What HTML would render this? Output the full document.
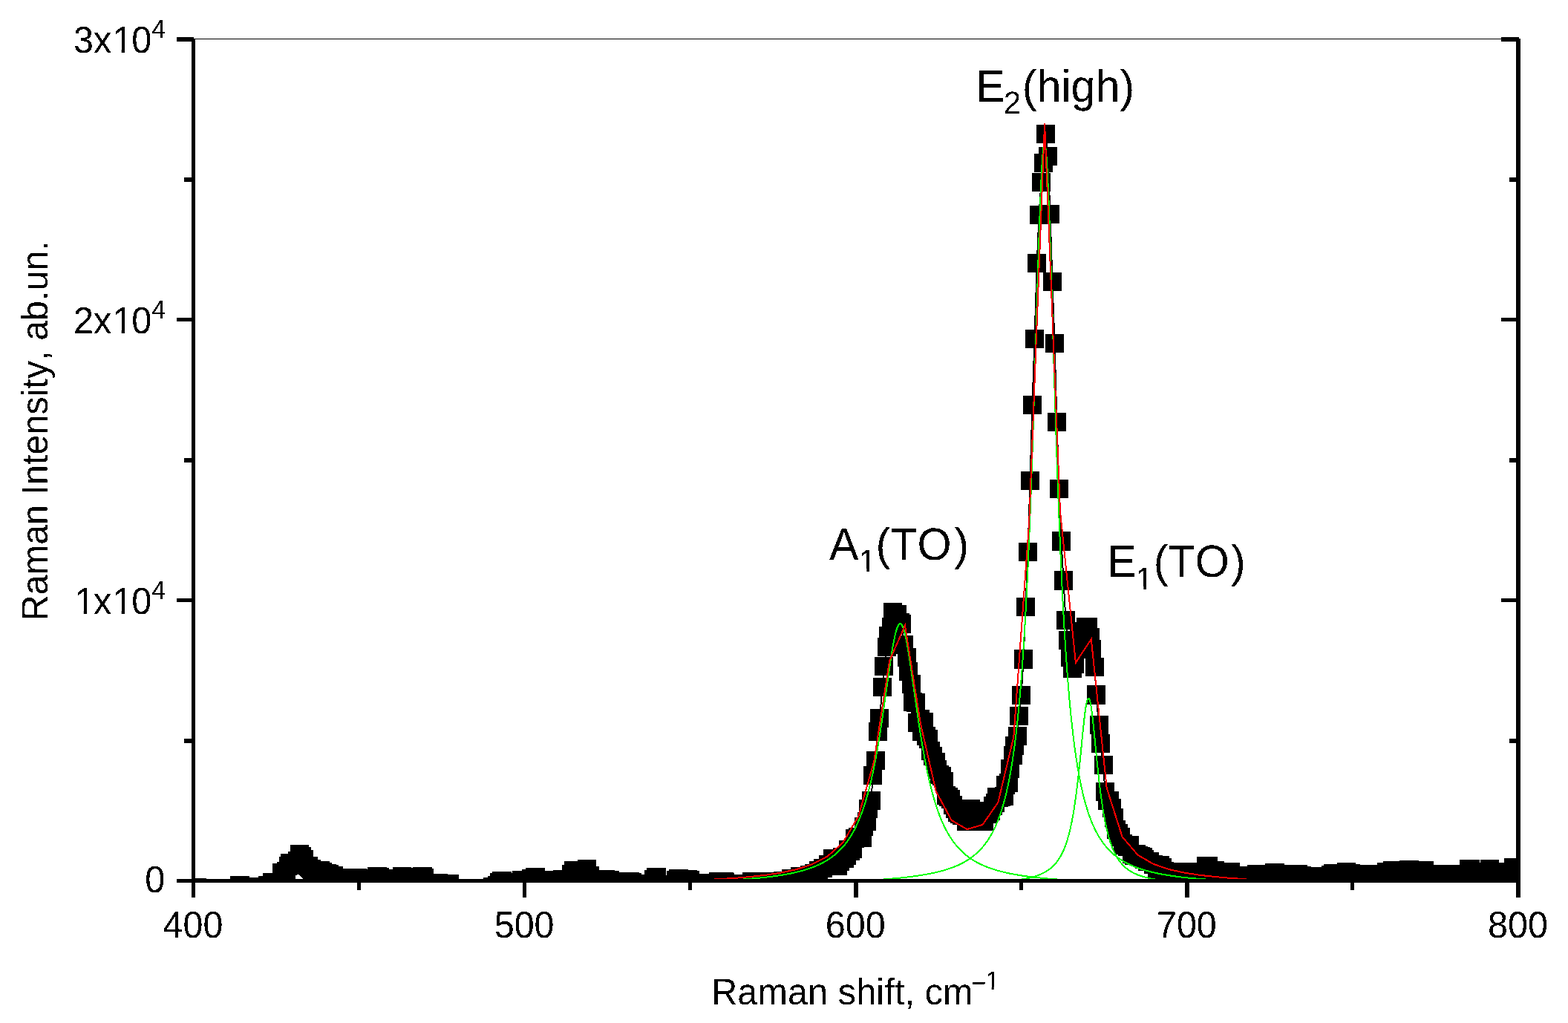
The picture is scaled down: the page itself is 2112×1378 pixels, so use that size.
<!DOCTYPE html>
<html lang="en">
<head>
<meta charset="utf-8">
<title>Raman spectrum</title>
<style>
html,body{margin:0;padding:0;background:#fff;}
body{width:2112px;height:1378px;overflow:hidden;}
svg{display:block;}
text{font-family:"Liberation Sans",Arial,Helvetica,sans-serif;fill:#000;font-kerning:none;text-rendering:geometricPrecision;}
.t,.tt{font-size:48.5px;}
.ls{letter-spacing:0.14px;}
.ts{font-size:34px;}
.p{font-size:59.3px;}
.ps{font-size:41.5px;}
.sq rect{fill:#000;}
.ax rect{fill:#000;}
.dl{fill:none;stroke:#000;stroke-width:2;stroke-linejoin:bevel;}
.fit polyline{fill:none;stroke-width:2;stroke-linejoin:miter;stroke-linecap:butt;}
</style>
</head>
<body>
<svg width="2112" height="1378" viewBox="0 0 2112 1378">
<rect x="0" y="0" width="2112" height="1378" fill="#fff"/>
<defs><clipPath id="plot"><rect x="261" y="52" width="1784" height="1137"/></clipPath>
<filter id="bin" filterUnits="userSpaceOnUse" x="0" y="0" width="2112" height="1378" color-interpolation-filters="sRGB"><feComponentTransfer><feFuncA type="discrete" tableValues="0 1"/></feComponentTransfer></filter></defs>
<g class="sq" shape-rendering="crispEdges" clip-path="url(#plot)">
<rect x="244" y="1183" width="25" height="25"/>
<rect x="247" y="1183" width="25" height="25"/>
<rect x="250" y="1183" width="25" height="25"/>
<rect x="253" y="1183" width="25" height="25"/>
<rect x="256" y="1186" width="25" height="25"/>
<rect x="259" y="1186" width="25" height="25"/>
<rect x="262" y="1186" width="25" height="25"/>
<rect x="265" y="1186" width="25" height="25"/>
<rect x="268" y="1186" width="25" height="25"/>
<rect x="271" y="1186" width="25" height="25"/>
<rect x="274" y="1186" width="25" height="25"/>
<rect x="277" y="1186" width="25" height="25"/>
<rect x="280" y="1186" width="25" height="25"/>
<rect x="283" y="1186" width="25" height="25"/>
<rect x="286" y="1186" width="25" height="25"/>
<rect x="289" y="1186" width="25" height="25"/>
<rect x="292" y="1186" width="25" height="25"/>
<rect x="295" y="1186" width="25" height="25"/>
<rect x="298" y="1186" width="25" height="25"/>
<rect x="301" y="1186" width="25" height="25"/>
<rect x="304" y="1186" width="25" height="25"/>
<rect x="307" y="1186" width="25" height="25"/>
<rect x="310" y="1180" width="25" height="25"/>
<rect x="313" y="1182" width="25" height="25"/>
<rect x="316" y="1182" width="25" height="25"/>
<rect x="319" y="1182" width="25" height="25"/>
<rect x="322" y="1182" width="25" height="25"/>
<rect x="325" y="1182" width="25" height="25"/>
<rect x="328" y="1182" width="25" height="25"/>
<rect x="331" y="1182" width="25" height="25"/>
<rect x="334" y="1182" width="25" height="25"/>
<rect x="337" y="1182" width="25" height="25"/>
<rect x="340" y="1182" width="25" height="25"/>
<rect x="343" y="1182" width="25" height="25"/>
<rect x="346" y="1182" width="25" height="25"/>
<rect x="349" y="1180" width="25" height="25"/>
<rect x="352" y="1180" width="25" height="25"/>
<rect x="355" y="1176" width="25" height="25"/>
<rect x="358" y="1176" width="25" height="25"/>
<rect x="361" y="1176" width="25" height="25"/>
<rect x="364" y="1176" width="25" height="25"/>
<rect x="367" y="1163" width="25" height="25"/>
<rect x="370" y="1163" width="25" height="25"/>
<rect x="373" y="1161" width="25" height="26"/>
<rect x="376" y="1154" width="25" height="33"/>
<rect x="379" y="1150" width="25" height="37"/>
<rect x="382" y="1150" width="25" height="37"/>
<rect x="385" y="1150" width="25" height="37"/>
<rect x="388" y="1147" width="25" height="40"/>
<rect x="391" y="1138" width="25" height="49"/>
<rect x="394" y="1141" width="25" height="46"/>
<rect x="397" y="1145" width="25" height="42"/>
<rect x="400" y="1154" width="25" height="33"/>
<rect x="403" y="1154" width="25" height="33"/>
<rect x="406" y="1158" width="25" height="29"/>
<rect x="409" y="1160" width="25" height="27"/>
<rect x="412" y="1160" width="25" height="27"/>
<rect x="415" y="1160" width="25" height="27"/>
<rect x="418" y="1160" width="25" height="27"/>
<rect x="421" y="1162" width="25" height="25"/>
<rect x="424" y="1164" width="25" height="25"/>
<rect x="427" y="1164" width="25" height="25"/>
<rect x="430" y="1165" width="25" height="25"/>
<rect x="433" y="1167" width="25" height="25"/>
<rect x="436" y="1167" width="25" height="25"/>
<rect x="439" y="1170" width="25" height="25"/>
<rect x="442" y="1170" width="25" height="25"/>
<rect x="445" y="1170" width="25" height="25"/>
<rect x="448" y="1170" width="25" height="25"/>
<rect x="451" y="1170" width="25" height="25"/>
<rect x="454" y="1170" width="25" height="25"/>
<rect x="457" y="1170" width="25" height="25"/>
<rect x="460" y="1170" width="25" height="25"/>
<rect x="463" y="1170" width="25" height="25"/>
<rect x="466" y="1170" width="25" height="25"/>
<rect x="469" y="1170" width="25" height="25"/>
<rect x="472" y="1171" width="25" height="25"/>
<rect x="475" y="1171" width="25" height="25"/>
<rect x="478" y="1171" width="25" height="25"/>
<rect x="481" y="1171" width="25" height="25"/>
<rect x="484" y="1171" width="25" height="25"/>
<rect x="487" y="1171" width="25" height="25"/>
<rect x="490" y="1171" width="25" height="25"/>
<rect x="493" y="1171" width="25" height="25"/>
<rect x="496" y="1168" width="25" height="25"/>
<rect x="499" y="1169" width="25" height="25"/>
<rect x="502" y="1171" width="25" height="25"/>
<rect x="505" y="1171" width="25" height="25"/>
<rect x="508" y="1171" width="25" height="25"/>
<rect x="511" y="1171" width="25" height="25"/>
<rect x="514" y="1171" width="25" height="25"/>
<rect x="517" y="1171" width="25" height="25"/>
<rect x="520" y="1171" width="25" height="25"/>
<rect x="523" y="1171" width="25" height="25"/>
<rect x="526" y="1171" width="25" height="25"/>
<rect x="529" y="1168" width="25" height="25"/>
<rect x="532" y="1169" width="25" height="25"/>
<rect x="535" y="1169" width="25" height="25"/>
<rect x="538" y="1169" width="25" height="25"/>
<rect x="541" y="1169" width="25" height="25"/>
<rect x="544" y="1169" width="25" height="25"/>
<rect x="547" y="1169" width="25" height="25"/>
<rect x="550" y="1169" width="25" height="25"/>
<rect x="553" y="1169" width="25" height="25"/>
<rect x="556" y="1168" width="25" height="25"/>
<rect x="559" y="1170" width="25" height="25"/>
<rect x="562" y="1177" width="25" height="25"/>
<rect x="565" y="1177" width="25" height="25"/>
<rect x="568" y="1177" width="25" height="25"/>
<rect x="571" y="1177" width="25" height="25"/>
<rect x="574" y="1177" width="25" height="25"/>
<rect x="577" y="1177" width="25" height="25"/>
<rect x="580" y="1178" width="25" height="25"/>
<rect x="583" y="1178" width="25" height="25"/>
<rect x="586" y="1178" width="25" height="25"/>
<rect x="589" y="1178" width="25" height="25"/>
<rect x="592" y="1178" width="25" height="25"/>
<rect x="595" y="1186" width="25" height="25"/>
<rect x="598" y="1186" width="25" height="25"/>
<rect x="601" y="1186" width="25" height="25"/>
<rect x="604" y="1186" width="25" height="25"/>
<rect x="607" y="1186" width="25" height="25"/>
<rect x="610" y="1186" width="25" height="25"/>
<rect x="613" y="1186" width="25" height="25"/>
<rect x="616" y="1186" width="25" height="25"/>
<rect x="619" y="1186" width="25" height="25"/>
<rect x="622" y="1186" width="25" height="25"/>
<rect x="625" y="1186" width="25" height="25"/>
<rect x="628" y="1186" width="25" height="25"/>
<rect x="631" y="1186" width="25" height="25"/>
<rect x="634" y="1186" width="25" height="25"/>
<rect x="637" y="1186" width="25" height="25"/>
<rect x="640" y="1186" width="25" height="25"/>
<rect x="643" y="1186" width="25" height="25"/>
<rect x="646" y="1186" width="25" height="25"/>
<rect x="649" y="1186" width="25" height="25"/>
<rect x="652" y="1182" width="25" height="25"/>
<rect x="655" y="1182" width="25" height="25"/>
<rect x="658" y="1180" width="25" height="25"/>
<rect x="661" y="1176" width="25" height="25"/>
<rect x="664" y="1174" width="25" height="25"/>
<rect x="667" y="1176" width="25" height="25"/>
<rect x="670" y="1176" width="25" height="25"/>
<rect x="673" y="1176" width="25" height="25"/>
<rect x="676" y="1176" width="25" height="25"/>
<rect x="679" y="1176" width="25" height="25"/>
<rect x="682" y="1176" width="25" height="25"/>
<rect x="685" y="1176" width="25" height="25"/>
<rect x="688" y="1176" width="25" height="25"/>
<rect x="691" y="1173" width="25" height="25"/>
<rect x="694" y="1173" width="25" height="25"/>
<rect x="697" y="1173" width="25" height="25"/>
<rect x="700" y="1173" width="25" height="25"/>
<rect x="703" y="1171" width="25" height="25"/>
<rect x="706" y="1171" width="25" height="25"/>
<rect x="709" y="1169" width="25" height="25"/>
<rect x="712" y="1173" width="25" height="25"/>
<rect x="715" y="1173" width="25" height="25"/>
<rect x="718" y="1173" width="25" height="25"/>
<rect x="721" y="1173" width="25" height="25"/>
<rect x="724" y="1173" width="25" height="25"/>
<rect x="727" y="1173" width="25" height="25"/>
<rect x="730" y="1173" width="25" height="25"/>
<rect x="733" y="1173" width="25" height="25"/>
<rect x="736" y="1173" width="25" height="25"/>
<rect x="739" y="1173" width="25" height="25"/>
<rect x="742" y="1173" width="25" height="25"/>
<rect x="745" y="1172" width="25" height="25"/>
<rect x="748" y="1172" width="25" height="25"/>
<rect x="751" y="1172" width="25" height="25"/>
<rect x="754" y="1172" width="25" height="25"/>
<rect x="757" y="1165" width="25" height="25"/>
<rect x="760" y="1160" width="25" height="27"/>
<rect x="763" y="1160" width="25" height="27"/>
<rect x="766" y="1160" width="25" height="27"/>
<rect x="769" y="1160" width="25" height="27"/>
<rect x="772" y="1160" width="25" height="27"/>
<rect x="775" y="1160" width="25" height="27"/>
<rect x="778" y="1158" width="25" height="29"/>
<rect x="781" y="1167" width="25" height="25"/>
<rect x="784" y="1172" width="25" height="25"/>
<rect x="787" y="1172" width="25" height="25"/>
<rect x="790" y="1172" width="25" height="25"/>
<rect x="793" y="1172" width="25" height="25"/>
<rect x="796" y="1172" width="25" height="25"/>
<rect x="799" y="1172" width="25" height="25"/>
<rect x="802" y="1172" width="25" height="25"/>
<rect x="805" y="1173" width="25" height="25"/>
<rect x="808" y="1173" width="25" height="25"/>
<rect x="811" y="1175" width="25" height="25"/>
<rect x="814" y="1175" width="25" height="25"/>
<rect x="817" y="1175" width="25" height="25"/>
<rect x="820" y="1175" width="25" height="25"/>
<rect x="823" y="1175" width="25" height="25"/>
<rect x="826" y="1175" width="25" height="25"/>
<rect x="829" y="1175" width="25" height="25"/>
<rect x="832" y="1175" width="25" height="25"/>
<rect x="835" y="1175" width="25" height="25"/>
<rect x="838" y="1176" width="25" height="25"/>
<rect x="841" y="1178" width="25" height="25"/>
<rect x="844" y="1178" width="25" height="25"/>
<rect x="847" y="1178" width="25" height="25"/>
<rect x="850" y="1178" width="25" height="25"/>
<rect x="853" y="1178" width="25" height="25"/>
<rect x="856" y="1178" width="25" height="25"/>
<rect x="859" y="1178" width="25" height="25"/>
<rect x="862" y="1178" width="25" height="25"/>
<rect x="865" y="1178" width="25" height="25"/>
<rect x="868" y="1172" width="25" height="25"/>
<rect x="871" y="1169" width="25" height="25"/>
<rect x="874" y="1179" width="25" height="25"/>
<rect x="877" y="1179" width="25" height="25"/>
<rect x="880" y="1179" width="25" height="25"/>
<rect x="883" y="1179" width="25" height="25"/>
<rect x="886" y="1179" width="25" height="25"/>
<rect x="889" y="1179" width="25" height="25"/>
<rect x="892" y="1179" width="25" height="25"/>
<rect x="895" y="1179" width="25" height="25"/>
<rect x="898" y="1173" width="25" height="25"/>
<rect x="901" y="1171" width="25" height="25"/>
<rect x="904" y="1172" width="25" height="25"/>
<rect x="907" y="1172" width="25" height="25"/>
<rect x="910" y="1172" width="25" height="25"/>
<rect x="913" y="1172" width="25" height="25"/>
<rect x="916" y="1173" width="25" height="25"/>
<rect x="919" y="1177" width="25" height="25"/>
<rect x="922" y="1177" width="25" height="25"/>
<rect x="925" y="1177" width="25" height="25"/>
<rect x="928" y="1177" width="25" height="25"/>
<rect x="931" y="1177" width="25" height="25"/>
<rect x="934" y="1177" width="25" height="25"/>
<rect x="937" y="1177" width="25" height="25"/>
<rect x="940" y="1177" width="25" height="25"/>
<rect x="943" y="1177" width="25" height="25"/>
<rect x="946" y="1177" width="25" height="25"/>
<rect x="949" y="1177" width="25" height="25"/>
<rect x="952" y="1177" width="25" height="25"/>
<rect x="955" y="1175" width="25" height="25"/>
<rect x="958" y="1175" width="25" height="25"/>
<rect x="961" y="1175" width="25" height="25"/>
<rect x="964" y="1176" width="25" height="25"/>
<rect x="967" y="1178" width="25" height="25"/>
<rect x="970" y="1178" width="25" height="25"/>
<rect x="973" y="1178" width="25" height="25"/>
<rect x="976" y="1178" width="25" height="25"/>
<rect x="979" y="1178" width="25" height="25"/>
<rect x="982" y="1178" width="25" height="25"/>
<rect x="985" y="1178" width="25" height="25"/>
<rect x="988" y="1178" width="25" height="25"/>
<rect x="991" y="1178" width="25" height="25"/>
<rect x="994" y="1178" width="25" height="25"/>
<rect x="997" y="1178" width="25" height="25"/>
<rect x="1000" y="1175" width="25" height="25"/>
<rect x="1003" y="1175" width="25" height="25"/>
<rect x="1006" y="1175" width="25" height="25"/>
<rect x="1009" y="1175" width="25" height="25"/>
<rect x="1012" y="1175" width="25" height="25"/>
<rect x="1015" y="1175" width="25" height="25"/>
<rect x="1018" y="1175" width="25" height="25"/>
<rect x="1021" y="1175" width="25" height="25"/>
<rect x="1024" y="1175" width="25" height="25"/>
<rect x="1027" y="1175" width="25" height="25"/>
<rect x="1030" y="1175" width="25" height="25"/>
<rect x="1033" y="1175" width="25" height="25"/>
<rect x="1036" y="1175" width="25" height="25"/>
<rect x="1039" y="1175" width="25" height="25"/>
<rect x="1042" y="1174" width="25" height="25"/>
<rect x="1045" y="1174" width="25" height="25"/>
<rect x="1048" y="1174" width="25" height="25"/>
<rect x="1051" y="1174" width="25" height="25"/>
<rect x="311" y="1180" width="25" height="25"/>
<rect x="348" y="1180" width="25" height="25"/>
<rect x="354" y="1176" width="25" height="25"/>
<rect x="378" y="1150" width="25" height="37"/>
<rect x="407" y="1158" width="25" height="29"/>
<rect x="419" y="1160" width="25" height="27"/>
<rect x="422" y="1162" width="25" height="25"/>
<rect x="428" y="1164" width="25" height="25"/>
<rect x="431" y="1165" width="25" height="25"/>
<rect x="437" y="1167" width="25" height="25"/>
<rect x="468" y="1170" width="25" height="25"/>
<rect x="495" y="1168" width="25" height="25"/>
<rect x="498" y="1169" width="25" height="25"/>
<rect x="557" y="1168" width="25" height="25"/>
<rect x="578" y="1177" width="25" height="25"/>
<rect x="593" y="1178" width="25" height="25"/>
<rect x="651" y="1182" width="25" height="25"/>
<rect x="657" y="1180" width="25" height="25"/>
<rect x="660" y="1176" width="25" height="25"/>
<rect x="663" y="1174" width="25" height="25"/>
<rect x="690" y="1173" width="25" height="25"/>
<rect x="708" y="1169" width="25" height="25"/>
<rect x="782" y="1167" width="25" height="25"/>
<rect x="803" y="1172" width="25" height="25"/>
<rect x="809" y="1173" width="25" height="25"/>
<rect x="836" y="1175" width="25" height="25"/>
<rect x="839" y="1176" width="25" height="25"/>
<rect x="869" y="1172" width="25" height="25"/>
<rect x="872" y="1169" width="25" height="25"/>
<rect x="899" y="1173" width="25" height="25"/>
<rect x="902" y="1171" width="25" height="25"/>
<rect x="914" y="1172" width="25" height="25"/>
<rect x="917" y="1173" width="25" height="25"/>
<rect x="956" y="1175" width="25" height="25"/>
<rect x="962" y="1175" width="25" height="25"/>
<rect x="963" y="1175" width="25" height="25"/>
<rect x="1001" y="1175" width="25" height="25"/>
<rect x="1043" y="1174" width="25" height="25"/>
<rect x="1546" y="1153" width="25" height="34"/>
<rect x="1549" y="1153" width="25" height="34"/>
<rect x="1552" y="1156" width="25" height="31"/>
<rect x="1555" y="1161" width="25" height="26"/>
<rect x="1558" y="1162" width="25" height="25"/>
<rect x="1561" y="1162" width="25" height="25"/>
<rect x="1564" y="1162" width="25" height="25"/>
<rect x="1567" y="1162" width="25" height="25"/>
<rect x="1570" y="1162" width="25" height="25"/>
<rect x="1573" y="1162" width="25" height="25"/>
<rect x="1576" y="1162" width="25" height="25"/>
<rect x="1579" y="1162" width="25" height="25"/>
<rect x="1582" y="1162" width="25" height="25"/>
<rect x="1585" y="1162" width="25" height="25"/>
<rect x="1588" y="1162" width="25" height="25"/>
<rect x="1591" y="1162" width="25" height="25"/>
<rect x="1594" y="1162" width="25" height="25"/>
<rect x="1597" y="1162" width="25" height="25"/>
<rect x="1600" y="1162" width="25" height="25"/>
<rect x="1603" y="1162" width="25" height="25"/>
<rect x="1606" y="1162" width="25" height="25"/>
<rect x="1609" y="1162" width="25" height="25"/>
<rect x="1612" y="1154" width="25" height="33"/>
<rect x="1615" y="1154" width="25" height="33"/>
<rect x="1618" y="1160" width="25" height="27"/>
<rect x="1621" y="1160" width="25" height="27"/>
<rect x="1624" y="1160" width="25" height="27"/>
<rect x="1627" y="1162" width="25" height="25"/>
<rect x="1630" y="1162" width="25" height="25"/>
<rect x="1633" y="1162" width="25" height="25"/>
<rect x="1636" y="1162" width="25" height="25"/>
<rect x="1639" y="1162" width="25" height="25"/>
<rect x="1642" y="1162" width="25" height="25"/>
<rect x="1645" y="1162" width="25" height="25"/>
<rect x="1648" y="1167" width="25" height="25"/>
<rect x="1651" y="1167" width="25" height="25"/>
<rect x="1654" y="1167" width="25" height="25"/>
<rect x="1657" y="1167" width="25" height="25"/>
<rect x="1660" y="1167" width="25" height="25"/>
<rect x="1663" y="1167" width="25" height="25"/>
<rect x="1666" y="1167" width="25" height="25"/>
<rect x="1669" y="1167" width="25" height="25"/>
<rect x="1672" y="1167" width="25" height="25"/>
<rect x="1675" y="1167" width="25" height="25"/>
<rect x="1678" y="1167" width="25" height="25"/>
<rect x="1681" y="1165" width="25" height="25"/>
<rect x="1684" y="1165" width="25" height="25"/>
<rect x="1687" y="1165" width="25" height="25"/>
<rect x="1690" y="1165" width="25" height="25"/>
<rect x="1693" y="1165" width="25" height="25"/>
<rect x="1696" y="1165" width="25" height="25"/>
<rect x="1699" y="1165" width="25" height="25"/>
<rect x="1702" y="1165" width="25" height="25"/>
<rect x="1705" y="1163" width="25" height="25"/>
<rect x="1708" y="1165" width="25" height="25"/>
<rect x="1711" y="1165" width="25" height="25"/>
<rect x="1714" y="1165" width="25" height="25"/>
<rect x="1717" y="1165" width="25" height="25"/>
<rect x="1720" y="1165" width="25" height="25"/>
<rect x="1723" y="1165" width="25" height="25"/>
<rect x="1726" y="1165" width="25" height="25"/>
<rect x="1729" y="1165" width="25" height="25"/>
<rect x="1732" y="1165" width="25" height="25"/>
<rect x="1735" y="1165" width="25" height="25"/>
<rect x="1738" y="1167" width="25" height="25"/>
<rect x="1741" y="1167" width="25" height="25"/>
<rect x="1744" y="1168" width="25" height="25"/>
<rect x="1747" y="1168" width="25" height="25"/>
<rect x="1750" y="1168" width="25" height="25"/>
<rect x="1753" y="1168" width="25" height="25"/>
<rect x="1756" y="1168" width="25" height="25"/>
<rect x="1759" y="1168" width="25" height="25"/>
<rect x="1762" y="1168" width="25" height="25"/>
<rect x="1765" y="1168" width="25" height="25"/>
<rect x="1768" y="1168" width="25" height="25"/>
<rect x="1771" y="1168" width="25" height="25"/>
<rect x="1774" y="1168" width="25" height="25"/>
<rect x="1777" y="1168" width="25" height="25"/>
<rect x="1780" y="1166" width="25" height="25"/>
<rect x="1783" y="1164" width="25" height="25"/>
<rect x="1786" y="1164" width="25" height="25"/>
<rect x="1789" y="1164" width="25" height="25"/>
<rect x="1792" y="1164" width="25" height="25"/>
<rect x="1795" y="1164" width="25" height="25"/>
<rect x="1798" y="1164" width="25" height="25"/>
<rect x="1801" y="1162" width="25" height="25"/>
<rect x="1804" y="1164" width="25" height="25"/>
<rect x="1807" y="1164" width="25" height="25"/>
<rect x="1810" y="1165" width="25" height="25"/>
<rect x="1813" y="1165" width="25" height="25"/>
<rect x="1816" y="1165" width="25" height="25"/>
<rect x="1819" y="1165" width="25" height="25"/>
<rect x="1822" y="1165" width="25" height="25"/>
<rect x="1825" y="1165" width="25" height="25"/>
<rect x="1828" y="1165" width="25" height="25"/>
<rect x="1831" y="1165" width="25" height="25"/>
<rect x="1834" y="1165" width="25" height="25"/>
<rect x="1837" y="1165" width="25" height="25"/>
<rect x="1840" y="1165" width="25" height="25"/>
<rect x="1843" y="1165" width="25" height="25"/>
<rect x="1846" y="1165" width="25" height="25"/>
<rect x="1849" y="1165" width="25" height="25"/>
<rect x="1852" y="1165" width="25" height="25"/>
<rect x="1855" y="1162" width="25" height="25"/>
<rect x="1858" y="1162" width="25" height="25"/>
<rect x="1861" y="1162" width="25" height="25"/>
<rect x="1864" y="1160" width="25" height="27"/>
<rect x="1867" y="1160" width="25" height="27"/>
<rect x="1870" y="1160" width="25" height="27"/>
<rect x="1873" y="1160" width="25" height="27"/>
<rect x="1876" y="1160" width="25" height="27"/>
<rect x="1879" y="1160" width="25" height="27"/>
<rect x="1882" y="1160" width="25" height="27"/>
<rect x="1885" y="1159" width="25" height="28"/>
<rect x="1888" y="1160" width="25" height="27"/>
<rect x="1891" y="1160" width="25" height="27"/>
<rect x="1894" y="1160" width="25" height="27"/>
<rect x="1897" y="1160" width="25" height="27"/>
<rect x="1900" y="1160" width="25" height="27"/>
<rect x="1903" y="1160" width="25" height="27"/>
<rect x="1906" y="1160" width="25" height="27"/>
<rect x="1909" y="1165" width="25" height="25"/>
<rect x="1912" y="1165" width="25" height="25"/>
<rect x="1915" y="1165" width="25" height="25"/>
<rect x="1918" y="1165" width="25" height="25"/>
<rect x="1921" y="1165" width="25" height="25"/>
<rect x="1924" y="1165" width="25" height="25"/>
<rect x="1927" y="1165" width="25" height="25"/>
<rect x="1930" y="1165" width="25" height="25"/>
<rect x="1933" y="1165" width="25" height="25"/>
<rect x="1936" y="1165" width="25" height="25"/>
<rect x="1939" y="1165" width="25" height="25"/>
<rect x="1942" y="1165" width="25" height="25"/>
<rect x="1945" y="1165" width="25" height="25"/>
<rect x="1948" y="1165" width="25" height="25"/>
<rect x="1951" y="1165" width="25" height="25"/>
<rect x="1954" y="1165" width="25" height="25"/>
<rect x="1957" y="1165" width="25" height="25"/>
<rect x="1960" y="1165" width="25" height="25"/>
<rect x="1963" y="1165" width="25" height="25"/>
<rect x="1966" y="1158" width="25" height="29"/>
<rect x="1969" y="1158" width="25" height="29"/>
<rect x="1972" y="1162" width="25" height="25"/>
<rect x="1975" y="1162" width="25" height="25"/>
<rect x="1978" y="1162" width="25" height="25"/>
<rect x="1981" y="1162" width="25" height="25"/>
<rect x="1984" y="1162" width="25" height="25"/>
<rect x="1987" y="1162" width="25" height="25"/>
<rect x="1990" y="1162" width="25" height="25"/>
<rect x="1993" y="1158" width="25" height="29"/>
<rect x="1996" y="1162" width="25" height="25"/>
<rect x="1999" y="1162" width="25" height="25"/>
<rect x="2002" y="1162" width="25" height="25"/>
<rect x="2005" y="1162" width="25" height="25"/>
<rect x="2008" y="1162" width="25" height="25"/>
<rect x="2011" y="1162" width="25" height="25"/>
<rect x="2014" y="1162" width="25" height="25"/>
<rect x="2017" y="1162" width="25" height="25"/>
<rect x="2020" y="1162" width="25" height="25"/>
<rect x="2023" y="1162" width="25" height="25"/>
<rect x="2026" y="1156" width="25" height="31"/>
<rect x="2029" y="1156" width="25" height="31"/>
<rect x="2032" y="1156" width="25" height="31"/>
<rect x="2035" y="1156" width="25" height="31"/>
<rect x="2038" y="1156" width="25" height="31"/>
<rect x="2041" y="1156" width="25" height="31"/>
<rect x="2044" y="1156" width="25" height="31"/>
<rect x="2047" y="1156" width="25" height="31"/>
<rect x="1550" y="1153" width="25" height="34"/>
<rect x="1553" y="1156" width="25" height="31"/>
<rect x="1556" y="1161" width="25" height="26"/>
<rect x="1680" y="1165" width="25" height="25"/>
<rect x="1704" y="1163" width="25" height="25"/>
<rect x="1736" y="1165" width="25" height="25"/>
<rect x="1740" y="1167" width="25" height="25"/>
<rect x="1784" y="1164" width="25" height="25"/>
<rect x="1856" y="1162" width="25" height="25"/>
<rect x="1863" y="1160" width="25" height="27"/>
<rect x="1886" y="1159" width="25" height="28"/>
<rect x="1967" y="1158" width="25" height="29"/>
<rect x="1968" y="1158" width="25" height="29"/>
<rect x="1994" y="1158" width="25" height="29"/>
<rect x="1053" y="1171" width="25" height="25"/>
<rect x="1065" y="1168" width="25" height="25"/>
<rect x="1078" y="1166" width="25" height="25"/>
<rect x="1084" y="1164" width="25" height="25"/>
<rect x="1090" y="1160" width="25" height="25"/>
<rect x="1096" y="1157" width="25" height="25"/>
<rect x="1103" y="1152" width="25" height="25"/>
<rect x="1109" y="1144" width="25" height="25"/>
<rect x="1113" y="1150" width="25" height="25"/>
<rect x="1116" y="1154" width="25" height="25"/>
<rect x="1119" y="1148" width="25" height="25"/>
<rect x="1122" y="1142" width="25" height="25"/>
<rect x="1125" y="1144" width="25" height="25"/>
<rect x="1128" y="1140" width="25" height="25"/>
<rect x="1130" y="1132" width="25" height="25"/>
<rect x="1133" y="1134" width="25" height="25"/>
<rect x="1136" y="1131" width="25" height="25"/>
<rect x="1139" y="1117" width="25" height="25"/>
<rect x="1143" y="1115" width="25" height="25"/>
<rect x="1146" y="1116" width="25" height="25"/>
<rect x="1149" y="1116" width="25" height="25"/>
<rect x="1151" y="1101" width="25" height="25"/>
<rect x="1155" y="1094" width="25" height="25"/>
<rect x="1157" y="1077" width="25" height="25"/>
<rect x="1161" y="1066" width="25" height="25"/>
<rect x="1163" y="1032" width="25" height="25"/>
<rect x="1167" y="1012" width="25" height="25"/>
<rect x="1170" y="973" width="25" height="25"/>
<rect x="1172" y="955" width="25" height="25"/>
<rect x="1176" y="913" width="25" height="25"/>
<rect x="1178" y="885" width="25" height="25"/>
<rect x="1182" y="859" width="25" height="25"/>
<rect x="1184" y="844" width="25" height="25"/>
<rect x="1188" y="832" width="25" height="25"/>
<rect x="1190" y="812" width="25" height="25"/>
<rect x="1193" y="818" width="25" height="25"/>
<rect x="1196" y="815" width="25" height="25"/>
<rect x="1199" y="828" width="25" height="25"/>
<rect x="1200" y="826" width="25" height="25"/>
<rect x="1202" y="828" width="25" height="25"/>
<rect x="1205" y="856" width="25" height="25"/>
<rect x="1209" y="873" width="25" height="25"/>
<rect x="1211" y="892" width="25" height="25"/>
<rect x="1215" y="909" width="25" height="25"/>
<rect x="1217" y="933" width="25" height="25"/>
<rect x="1221" y="934" width="25" height="25"/>
<rect x="1223" y="961" width="25" height="25"/>
<rect x="1227" y="956" width="25" height="25"/>
<rect x="1229" y="973" width="25" height="25"/>
<rect x="1232" y="960" width="25" height="25"/>
<rect x="1235" y="979" width="25" height="25"/>
<rect x="1238" y="983" width="25" height="25"/>
<rect x="1241" y="999" width="25" height="25"/>
<rect x="1244" y="1006" width="25" height="25"/>
<rect x="1248" y="1014" width="25" height="25"/>
<rect x="1250" y="1024" width="25" height="25"/>
<rect x="1253" y="1031" width="25" height="25"/>
<rect x="1256" y="1033" width="25" height="25"/>
<rect x="1259" y="1040" width="25" height="25"/>
<rect x="1262" y="1059" width="25" height="25"/>
<rect x="1265" y="1061" width="25" height="25"/>
<rect x="1268" y="1064" width="25" height="25"/>
<rect x="1271" y="1072" width="25" height="25"/>
<rect x="1274" y="1077" width="25" height="25"/>
<rect x="1277" y="1082" width="25" height="25"/>
<rect x="1280" y="1084" width="25" height="25"/>
<rect x="1283" y="1086" width="25" height="25"/>
<rect x="1286" y="1082" width="25" height="25"/>
<rect x="1289" y="1094" width="25" height="25"/>
<rect x="1292" y="1088" width="25" height="25"/>
<rect x="1295" y="1077" width="25" height="25"/>
<rect x="1298" y="1092" width="25" height="25"/>
<rect x="1300" y="1080" width="25" height="25"/>
<rect x="1304" y="1094" width="25" height="25"/>
<rect x="1307" y="1086" width="25" height="25"/>
<rect x="1310" y="1082" width="25" height="25"/>
<rect x="1313" y="1094" width="25" height="25"/>
<rect x="1316" y="1084" width="25" height="25"/>
<rect x="1319" y="1084" width="25" height="25"/>
<rect x="1322" y="1080" width="25" height="25"/>
<rect x="1325" y="1073" width="25" height="25"/>
<rect x="1328" y="1069" width="25" height="25"/>
<rect x="1330" y="1061" width="25" height="25"/>
<rect x="1333" y="1062" width="25" height="25"/>
<rect x="1336" y="1061" width="25" height="25"/>
<rect x="1340" y="1060" width="25" height="25"/>
<rect x="1342" y="1045" width="25" height="25"/>
<rect x="1346" y="1042" width="25" height="25"/>
<rect x="1348" y="1023" width="25" height="25"/>
<rect x="1352" y="1005" width="25" height="25"/>
<rect x="1354" y="992" width="25" height="25"/>
<rect x="1358" y="979" width="25" height="25"/>
<rect x="1360" y="952" width="25" height="25"/>
<rect x="1363" y="924" width="25" height="25"/>
<rect x="1366" y="875" width="25" height="26"/>
<rect x="1369" y="805" width="25" height="25"/>
<rect x="1372" y="731" width="25" height="25"/>
<rect x="1375" y="635" width="25" height="25"/>
<rect x="1378" y="533" width="25" height="25"/>
<rect x="1381" y="444" width="25" height="25"/>
<rect x="1384" y="342" width="25" height="25"/>
<rect x="1387" y="277" width="25" height="25"/>
<rect x="1390" y="233" width="25" height="25"/>
<rect x="1393" y="207" width="25" height="25"/>
<rect x="1396" y="168" width="25" height="25"/>
<rect x="1399" y="198" width="25" height="25"/>
<rect x="1402" y="276" width="25" height="25"/>
<rect x="1405" y="367" width="25" height="25"/>
<rect x="1408" y="450" width="25" height="25"/>
<rect x="1411" y="556" width="25" height="25"/>
<rect x="1414" y="646" width="25" height="25"/>
<rect x="1417" y="716" width="25" height="26"/>
<rect x="1420" y="769" width="25" height="26"/>
<rect x="1423" y="823" width="25" height="25"/>
<rect x="1426" y="850" width="25" height="25"/>
<rect x="1429" y="873" width="25" height="25"/>
<rect x="1432" y="888" width="25" height="25"/>
<rect x="1435" y="882" width="25" height="25"/>
<rect x="1438" y="860" width="25" height="25"/>
<rect x="1441" y="848" width="25" height="25"/>
<rect x="1444" y="842" width="25" height="25"/>
<rect x="1447" y="838" width="25" height="25"/>
<rect x="1450" y="832" width="25" height="25"/>
<rect x="1453" y="832" width="25" height="25"/>
<rect x="1456" y="846" width="25" height="25"/>
<rect x="1458" y="862" width="25" height="25"/>
<rect x="1462" y="886" width="25" height="25"/>
<rect x="1464" y="923" width="25" height="26"/>
<rect x="1468" y="964" width="25" height="25"/>
<rect x="1470" y="989" width="25" height="25"/>
<rect x="1474" y="1018" width="25" height="25"/>
<rect x="1476" y="1054" width="25" height="25"/>
<rect x="1479" y="1066" width="25" height="25"/>
<rect x="1482" y="1066" width="25" height="25"/>
<rect x="1485" y="1076" width="25" height="25"/>
<rect x="1488" y="1089" width="25" height="25"/>
<rect x="1491" y="1105" width="25" height="25"/>
<rect x="1494" y="1110" width="25" height="25"/>
<rect x="1497" y="1115" width="25" height="25"/>
<rect x="1500" y="1124" width="25" height="25"/>
<rect x="1503" y="1126" width="25" height="25"/>
<rect x="1506" y="1128" width="25" height="25"/>
<rect x="1509" y="1126" width="25" height="25"/>
<rect x="1512" y="1138" width="25" height="25"/>
<rect x="1515" y="1140" width="25" height="25"/>
<rect x="1518" y="1138" width="25" height="25"/>
<rect x="1521" y="1140" width="25" height="25"/>
<rect x="1524" y="1141" width="25" height="25"/>
<rect x="1527" y="1142" width="25" height="25"/>
<rect x="1529" y="1145" width="25" height="25"/>
<rect x="1533" y="1148" width="25" height="25"/>
<rect x="1536" y="1148" width="25" height="25"/>
<rect x="1541" y="1152" width="25" height="25"/>
</g>
<polygon points="398,1184 398,1179 402,1178 409,1184" fill="#fff" shape-rendering="crispEdges"/>
<rect x="1993" y="1157" width="1" height="5" fill="#fff" shape-rendering="crispEdges"/>
<polyline class="dl" shape-rendering="crispEdges" clip-path="url(#plot)" points="1065.3,1183.6 1077.8,1180.6 1090.5,1178.5 1096.5,1176 1102.5,1173 1108.5,1169.5 1115.5,1164.7 1121.6,1156.6 1125.5,1162 1128.5,1166 1131.5,1160 1134.7,1154.5 1137.5,1156 1140.6,1152.5 1142.5,1144.5 1145.5,1146 1148.4,1143.3 1151.6,1129.6 1155.6,1127.5 1158.5,1128 1161.5,1128.3 1163.9,1113.8 1167.7,1106.2 1169.5,1089.4 1173.6,1078.4 1175.5,1044.5 1179.5,1024.5 1182.5,985.5 1185,967.5 1188.5,925.5 1191,897.5 1194.5,871.5 1196.7,856 1200.7,844.5 1202.5,824.5 1205.5,830 1208.5,827.5 1211.5,840 1212.6,838.6 1214.5,840.6 1217.4,868.5 1221.4,885.4 1223.3,904.5 1227.3,921.8 1229.5,945.5 1233.4,946.2 1235.7,973.9 1239.4,968.3 1241.7,985.3 1244.4,972.1 1247.5,991.5 1250.5,995.3 1253.6,1011.4 1256.7,1018.3 1260.1,1026.3 1262.7,1036.6 1265.9,1043.7 1268.7,1045.3 1271.6,1052.8 1274.5,1071.3 1277.6,1073.7 1281,1076.4 1283.6,1084.4 1286.5,1089.9 1289.6,1094.2 1292.6,1097 1295.5,1098 1298.5,1095 1301.4,1106.3 1304.5,1100 1307.4,1089.6 1310.5,1104 1312.4,1092.2 1316.5,1106.3 1319.5,1099 1322.5,1095 1325.5,1106.3 1328.5,1097 1331.5,1097 1334.5,1092.5 1337.7,1085.6 1340.5,1081.3 1342.8,1073.7 1345.7,1074 1348.7,1073.8 1352.5,1072.1 1354.5,1057.4 1358.5,1054.2 1360.5,1035.1 1364,1017.5 1366.5,1004.3 1370,991.6 1372.5,964.5 1375.6,936.6 1378.5,888 1381.5,817.5 1384.5,743.5 1387.5,647.5 1390.5,545.5 1393.5,457 1396.8,354.5 1399.5,289.5 1402.5,245.5 1405.5,219.5 1408.5,180.5 1411.5,210.5 1414.5,288.5 1417.5,379.5 1420.5,462.5 1423.5,568.5 1426.5,658.5 1429.5,729 1432.5,782 1435.5,835.5 1438.7,863 1441.7,885.3 1444.5,900.3 1447.5,894.2 1450.5,872 1453.5,860 1456.5,854.5 1459.5,850 1462.5,844.5 1465.5,844.5 1468.5,858.6 1470.5,874.7 1474.5,898.5 1476.5,935.8 1480,976.3 1482.6,1001.4 1486,1030.4 1488.5,1066.3 1491.6,1078.3 1494.4,1078.7 1497.6,1088.6 1500.6,1101.5 1503.6,1117.4 1506.6,1123 1509.4,1127.4 1512.4,1137 1515.5,1139 1518.5,1140 1521.4,1138.7 1524.6,1150.4 1527.9,1152.5 1530.3,1150.5 1533.3,1153 1536.3,1153.6 1539.5,1154.5 1541.4,1157.5 1545.7,1160.3 1548.4,1160.5 1553.5,1164.6"/>
<g class="fit" shape-rendering="crispEdges" clip-path="url(#plot)">
<polyline stroke="#00ff00" points="994.5,1185 995.5,1184.9 996.5,1184.8 997.5,1184.8 998.5,1184.7 999.5,1184.6 1000.5,1184.6 1001.5,1184.5 1002.5,1184.4 1003.5,1184.3 1004.5,1184.3 1005.5,1184.2 1006.5,1184.1 1007.5,1184 1008.5,1183.9 1009.5,1183.9 1010.5,1183.8 1011.5,1183.7 1012.5,1183.6 1013.5,1183.5 1014.5,1183.4 1015.5,1183.3 1016.5,1183.3 1017.5,1183.2 1018.5,1183.1 1019.5,1183 1020.5,1182.9 1021.5,1182.8 1022.5,1182.7 1023.5,1182.6 1024.5,1182.5 1025.5,1182.4 1026.5,1182.3 1027.5,1182.2 1028.5,1182.1 1029.5,1182 1030.5,1181.8 1031.5,1181.7 1032.5,1181.6 1033.5,1181.5 1034.5,1181.4 1035.5,1181.3 1036.5,1181.1 1037.5,1181 1038.5,1180.9 1039.5,1180.7 1040.5,1180.6 1041.5,1180.5 1042.5,1180.3 1043.5,1180.2 1044.5,1180.1 1045.5,1179.9 1046.5,1179.8 1047.5,1179.6 1048.5,1179.5 1049.5,1179.3 1050.5,1179.2 1051.5,1179 1052.5,1178.9 1053.5,1178.7 1054.5,1178.5 1055.5,1178.4 1056.5,1178.2 1057.5,1178 1058.5,1177.8 1059.5,1177.6 1060.5,1177.5 1061.5,1177.3 1062.5,1177.1 1063.5,1176.9 1064.5,1176.7 1065.5,1176.5 1066.5,1176.3 1067.5,1176 1068.5,1175.8 1069.5,1175.6 1070.5,1175.4 1071.5,1175.1 1072.5,1174.9 1073.5,1174.7 1074.5,1174.4 1075.5,1174.2 1076.5,1173.9 1077.5,1173.7 1078.5,1173.4 1079.5,1173.1 1080.5,1172.9 1081.5,1172.6 1082.5,1172.3 1083.5,1172 1084.5,1171.7 1085.5,1171.4 1086.5,1171.1 1087.5,1170.7 1088.5,1170.4 1089.5,1170.1 1090.5,1169.7 1091.5,1169.4 1092.5,1169 1093.5,1168.6 1094.5,1168.3 1095.5,1167.9 1096.5,1167.5 1097.5,1167.1 1098.5,1166.7 1099.5,1166.3 1100.5,1165.8 1101.5,1165.4 1102.5,1164.9 1103.5,1164.5 1104.5,1164 1105.5,1163.5 1106.5,1163 1107.5,1162.5 1108.5,1161.9 1109.5,1161.4 1110.5,1160.8 1111.5,1160.3 1112.5,1159.7 1113.5,1159.1 1114.5,1158.5 1115.5,1157.8 1116.5,1157.2 1117.5,1156.5 1118.5,1155.8 1119.5,1155.1 1120.5,1154.4 1121.5,1153.6 1122.5,1152.9 1123.5,1152.1 1124.5,1151.3 1125.5,1150.4 1126.5,1149.6 1127.5,1148.7 1128.5,1147.8 1129.5,1146.8 1130.5,1145.9 1131.5,1144.9 1132.5,1143.8 1133.5,1142.8 1134.5,1141.7 1135.5,1140.5 1136.5,1139.4 1137.5,1138.2 1138.5,1136.9 1139.5,1135.6 1140.5,1134.3 1141.5,1132.9 1142.5,1131.5 1143.5,1130.1 1144.5,1128.5 1145.5,1127 1146.5,1125.4 1147.5,1123.7 1148.5,1122 1149.5,1120.2 1150.5,1118.3 1151.5,1116.4 1152.5,1114.4 1153.5,1112.3 1154.5,1110.2 1155.5,1108 1156.5,1105.7 1157.5,1103.3 1158.5,1100.9 1159.5,1098.3 1160.5,1095.7 1161.5,1092.9 1162.5,1090.1 1163.5,1087.1 1164.5,1084 1165.5,1080.8 1166.5,1077.5 1167.5,1074.1 1168.5,1070.6 1169.5,1066.9 1170.5,1063 1171.5,1059.1 1172.5,1055 1173.5,1050.7 1174.5,1046.3 1175.5,1041.7 1176.5,1036.9 1177.5,1032 1178.5,1027 1179.5,1021.7 1180.5,1016.3 1181.5,1010.7 1182.5,1005 1183.5,999 1184.5,992.9 1185.5,986.7 1186.5,980.3 1187.5,973.7 1188.5,967 1189.5,960.2 1190.5,953.2 1191.5,946.2 1192.5,939.1 1193.5,932 1194.5,924.9 1195.5,917.7 1196.5,910.6 1197.5,903.6 1198.5,896.8 1199.5,890.1 1200.5,883.6 1201,880.5 1201.5,877.4 1202,874.4 1202.5,871.5 1203,868.7 1203.5,866 1204,863.4 1204.5,860.9 1205,858.5 1205.5,856.3 1206,854.2 1206.5,852.2 1207,850.3 1207.5,848.6 1208,847 1208.5,845.6 1209,844.4 1209.5,843.3 1210,842.3 1210.5,841.6 1211,841 1211.5,840.5 1212,840.3 1212.5,840.2 1213,840.3 1213.5,840.5 1214,841 1214.5,841.6 1215,842.3 1215.5,843.3 1216,844.4 1216.5,845.6 1217,847 1217.5,848.6 1218,850.3 1218.5,852.2 1219,854.2 1219.5,856.3 1220,858.5 1220.5,860.9 1221,863.4 1221.5,866 1222,868.7 1222.5,871.5 1223,874.4 1223.5,877.4 1224,880.5 1224.5,883.6 1225,886.8 1226,893.4 1227,900.2 1228,907.1 1229,914.2 1230,921.3 1231,928.4 1232,935.6 1233,942.7 1234,949.7 1235,956.7 1236,963.6 1237,970.4 1238,977 1239,983.5 1240,989.8 1241,996 1242,1002 1243,1007.9 1244,1013.5 1245,1019 1246,1024.4 1247,1029.5 1248,1034.5 1249,1039.3 1250,1044 1251,1048.5 1252,1052.8 1253,1057 1254,1061.1 1255,1065 1256,1068.7 1257,1072.4 1258,1075.8 1259,1079.2 1260,1082.5 1261,1085.6 1262,1088.6 1263,1091.5 1264,1094.3 1265,1097 1266,1099.6 1267,1102.1 1268,1104.5 1269,1106.9 1270,1109.1 1271,1111.3 1272,1113.4 1273,1115.4 1274,1117.4 1275,1119.2 1276,1121.1 1277,1122.8 1278,1124.5 1279,1126.2 1280,1127.8 1281,1129.3 1282,1130.8 1283,1132.2 1284,1133.6 1285,1135 1286,1136.3 1287,1137.5 1288,1138.8 1289,1140 1290,1141.1 1291,1142.2 1292,1143.3 1293,1144.3 1294,1145.4 1295,1146.3 1296,1147.3 1297,1148.2 1298,1149.1 1299,1150 1300,1150.9 1301,1151.7 1302,1152.5 1303,1153.3 1304,1154 1305,1154.8 1306,1155.5 1307,1156.2 1308,1156.8 1309,1157.5 1310,1158.2 1311,1158.8 1312,1159.4 1313,1160 1314,1160.6 1315,1161.1 1316,1161.7 1317,1162.2 1318,1162.7 1319,1163.2 1320,1163.7 1321,1164.2 1322,1164.7 1323,1165.1 1324,1165.6 1325,1166 1326,1166.5 1327,1166.9 1328,1167.3 1329,1167.7 1330,1168.1 1331,1168.5 1332,1168.8 1333,1169.2 1334,1169.6 1335,1169.9 1336,1170.2 1337,1170.6 1338,1170.9 1339,1171.2 1340,1171.5 1341,1171.8 1342,1172.1 1343,1172.4 1344,1172.7 1345,1173 1346,1173.3 1347,1173.5 1348,1173.8 1349,1174.1 1350,1174.3 1351,1174.6 1352,1174.8 1353,1175 1354,1175.3 1355,1175.5 1356,1175.7 1357,1175.9 1358,1176.2 1359,1176.4 1360,1176.6 1361,1176.8 1362,1177 1363,1177.2 1364,1177.4 1365,1177.5 1366,1177.7 1367,1177.9 1368,1178.1 1369,1178.3 1370,1178.4 1371,1178.6 1372,1178.8 1373,1178.9 1374,1179.1 1375,1179.3 1376,1179.4 1377,1179.6 1378,1179.7 1379,1179.9 1380,1180 1381,1180.1 1382,1180.3 1383,1180.4 1384,1180.6 1385,1180.7 1386,1180.8 1387,1180.9 1388,1181.1 1389,1181.2 1390,1181.3 1391,1181.4 1392,1181.6 1393,1181.7 1394,1181.8 1395,1181.9 1396,1182 1397,1182.1 1398,1182.2 1399,1182.3 1400,1182.4 1401,1182.5 1402,1182.6 1403,1182.7 1404,1182.8 1405,1182.9 1406,1183 1407,1183.1 1408,1183.2 1409,1183.3 1410,1183.4 1411,1183.5 1412,1183.6 1413,1183.7 1414,1183.7 1415,1183.8 1416,1183.9 1417,1184 1418,1184.1 1419,1184.1 1420,1184.2 1421,1184.3 1422,1184.4 1423,1184.4 1424,1184.5 1425,1184.6 1426,1184.7 1427,1184.7 1428,1184.8 1429,1184.9 1430,1184.9"/>
<polyline stroke="#00ff00" points="1182.9,1185 1183.9,1184.9 1184.9,1184.8 1185.9,1184.8 1186.9,1184.7 1187.9,1184.6 1188.9,1184.5 1189.9,1184.5 1190.9,1184.4 1191.9,1184.3 1192.9,1184.3 1193.9,1184.2 1194.9,1184.1 1195.9,1184 1196.9,1183.9 1197.9,1183.9 1198.9,1183.8 1199.9,1183.7 1200.9,1183.6 1201.9,1183.5 1202.9,1183.4 1203.9,1183.4 1204.9,1183.3 1205.9,1183.2 1206.9,1183.1 1207.9,1183 1208.9,1182.9 1209.9,1182.8 1210.9,1182.7 1211.9,1182.6 1212.9,1182.5 1213.9,1182.4 1214.9,1182.3 1215.9,1182.2 1216.9,1182.1 1217.9,1182 1218.9,1181.9 1219.9,1181.8 1220.9,1181.6 1221.9,1181.5 1222.9,1181.4 1223.9,1181.3 1224.9,1181.2 1225.9,1181 1226.9,1180.9 1227.9,1180.8 1228.9,1180.7 1229.9,1180.5 1230.9,1180.4 1231.9,1180.3 1232.9,1180.1 1233.9,1180 1234.9,1179.8 1235.9,1179.7 1236.9,1179.6 1237.9,1179.4 1238.9,1179.2 1239.9,1179.1 1240.9,1178.9 1241.9,1178.8 1242.9,1178.6 1243.9,1178.4 1244.9,1178.3 1245.9,1178.1 1246.9,1177.9 1247.9,1177.7 1248.9,1177.6 1249.9,1177.4 1250.9,1177.2 1251.9,1177 1252.9,1176.8 1253.9,1176.6 1254.9,1176.4 1255.9,1176.2 1256.9,1176 1257.9,1175.7 1258.9,1175.5 1259.9,1175.3 1260.9,1175.1 1261.9,1174.8 1262.9,1174.6 1263.9,1174.3 1264.9,1174.1 1265.9,1173.8 1266.9,1173.6 1267.9,1173.3 1268.9,1173 1269.9,1172.8 1270.9,1172.5 1271.9,1172.2 1272.9,1171.9 1273.9,1171.6 1274.9,1171.3 1275.9,1171 1276.9,1170.6 1277.9,1170.3 1278.9,1170 1279.9,1169.6 1280.9,1169.3 1281.9,1168.9 1282.9,1168.5 1283.9,1168.1 1284.9,1167.8 1285.9,1167.4 1286.9,1166.9 1287.9,1166.5 1288.9,1166.1 1289.9,1165.7 1290.9,1165.2 1291.9,1164.7 1292.9,1164.3 1293.9,1163.8 1294.9,1163.3 1295.9,1162.8 1296.9,1162.3 1297.9,1161.7 1298.9,1161.2 1299.9,1160.6 1300.9,1160 1301.9,1159.4 1302.9,1158.8 1303.9,1158.2 1304.9,1157.5 1305.9,1156.8 1306.9,1156.2 1307.9,1155.4 1308.9,1154.7 1309.9,1154 1310.9,1153.2 1311.9,1152.4 1312.9,1151.6 1313.9,1150.7 1314.9,1149.9 1315.9,1149 1316.9,1148 1317.9,1147.1 1318.9,1146.1 1319.9,1145.1 1320.9,1144 1321.9,1142.9 1322.9,1141.8 1323.9,1140.6 1324.9,1139.4 1325.9,1138.2 1326.9,1136.9 1327.9,1135.6 1328.9,1134.2 1329.9,1132.7 1330.9,1131.3 1331.9,1129.7 1332.9,1128.1 1333.9,1126.5 1334.9,1124.8 1335.9,1123 1336.9,1121.1 1337.9,1119.2 1338.9,1117.2 1339.9,1115.1 1340.9,1112.9 1341.9,1110.7 1342.9,1108.3 1343.9,1105.8 1344.9,1103.3 1345.9,1100.6 1346.9,1097.8 1347.9,1094.9 1348.9,1091.8 1349.9,1088.6 1350.9,1085.3 1351.9,1081.8 1352.9,1078.2 1353.9,1074.3 1354.9,1070.3 1355.9,1066.1 1356.9,1061.6 1357.9,1057 1358.9,1052.1 1359.9,1046.9 1360.9,1041.5 1361.9,1035.8 1362.9,1029.7 1363.9,1023.4 1364.9,1016.7 1365.9,1009.6 1366.9,1002.1 1367.9,994.2 1368.9,985.8 1369.9,976.9 1370.9,967.5 1371.9,957.5 1372.9,946.9 1373.9,935.7 1374.9,923.8 1375.9,911.1 1376.9,897.7 1377.9,883.4 1378.9,868.2 1379.9,852.1 1380.9,835 1381.9,816.8 1382.9,797.5 1383.9,776.9 1384.9,755.2 1385.9,732.2 1386.9,707.9 1387.9,682.3 1388.9,655.3 1389.9,627.1 1390.9,597.6 1391.9,566.9 1392.9,535.2 1393.9,502.7 1394.9,469.6 1395.4,452.9 1395.9,436.1 1396.4,419.4 1396.9,402.8 1397.4,386.3 1397.9,370 1398.4,354 1398.9,338.2 1399.4,322.9 1399.9,308.1 1400.4,293.9 1400.9,280.2 1401.4,267.4 1401.9,255.3 1402.4,244 1402.9,233.8 1403.4,224.5 1403.9,216.3 1404.4,209.3 1404.9,203.5 1405.4,198.9 1405.9,195.6 1406.4,193.7 1406.9,193 1407.4,193.7 1407.9,195.6 1408.4,198.9 1408.9,203.5 1409.4,209.3 1409.9,216.3 1410.4,224.5 1410.9,233.8 1411.4,244 1411.9,255.3 1412.4,267.4 1412.9,280.2 1413.4,293.9 1413.9,308.1 1414.4,322.9 1414.9,338.2 1415.4,354 1415.9,370 1416.4,386.3 1416.9,402.8 1417.4,419.4 1417.9,436.1 1418.4,452.9 1418.9,469.6 1419.4,486.2 1420.4,519.1 1421.4,551.2 1422.4,582.4 1423.4,612.5 1424.4,641.4 1425.4,669 1426.4,695.3 1427.4,720.2 1428.4,743.9 1429.4,766.2 1430.4,787.3 1431.4,807.3 1432.4,826 1433.4,843.7 1434.4,860.3 1435.4,876 1436.4,890.7 1437.4,904.5 1438.4,917.6 1439.4,929.8 1440.4,941.4 1441.4,952.3 1442.4,962.6 1443.4,972.3 1444.4,981.4 1445.4,990 1446.4,998.2 1447.4,1005.9 1448.4,1013.2 1449.4,1020.1 1450.4,1026.6 1451.4,1032.8 1452.4,1038.7 1453.4,1044.2 1454.4,1049.5 1455.4,1054.6 1456.4,1059.3 1457.4,1063.9 1458.4,1068.2 1459.4,1072.3 1460.4,1076.3 1461.4,1080 1462.4,1083.6 1463.4,1087 1464.4,1090.3 1465.4,1093.4 1466.4,1096.4 1467.4,1099.2 1468.4,1102 1469.4,1104.6 1470.4,1107.1 1471.4,1109.5 1472.4,1111.8 1473.4,1114 1474.4,1116.1 1475.4,1118.2 1476.4,1120.2 1477.4,1122 1478.4,1123.9 1479.4,1125.6 1480.4,1127.3 1481.4,1128.9 1482.4,1130.5 1483.4,1132 1484.4,1133.5 1485.4,1134.9 1486.4,1136.2 1487.4,1137.5 1488.4,1138.8 1489.4,1140 1490.4,1141.2 1491.4,1142.4 1492.4,1143.5 1493.4,1144.5 1494.4,1145.6 1495.4,1146.6 1496.4,1147.6 1497.4,1148.5 1498.4,1149.4 1499.4,1150.3 1500.4,1151.2 1501.4,1152 1502.4,1152.8 1503.4,1153.6 1504.4,1154.3 1505.4,1155.1 1506.4,1155.8 1507.4,1156.5 1508.4,1157.2 1509.4,1157.8 1510.4,1158.5 1511.4,1159.1 1512.4,1159.7 1513.4,1160.3 1514.4,1160.9 1515.4,1161.4 1516.4,1162 1517.4,1162.5 1518.4,1163 1519.4,1163.5 1520.4,1164 1521.4,1164.5 1522.4,1165 1523.4,1165.4 1524.4,1165.9 1525.4,1166.3 1526.4,1166.7 1527.4,1167.2 1528.4,1167.6 1529.4,1167.9 1530.4,1168.3 1531.4,1168.7 1532.4,1169.1 1533.4,1169.4 1534.4,1169.8 1535.4,1170.1 1536.4,1170.5 1537.4,1170.8 1538.4,1171.1 1539.4,1171.4 1540.4,1171.7 1541.4,1172 1542.4,1172.3 1543.4,1172.6 1544.4,1172.9 1545.4,1173.2 1546.4,1173.4 1547.4,1173.7 1548.4,1174 1549.4,1174.2 1550.4,1174.5 1551.4,1174.7 1552.4,1174.9 1553.4,1175.2 1554.4,1175.4 1555.4,1175.6 1556.4,1175.8 1557.4,1176.1 1558.4,1176.3 1559.4,1176.5 1560.4,1176.7 1561.4,1176.9 1562.4,1177.1 1563.4,1177.3 1564.4,1177.5 1565.4,1177.6 1566.4,1177.8 1567.4,1178 1568.4,1178.2 1569.4,1178.4 1570.4,1178.5 1571.4,1178.7 1572.4,1178.9 1573.4,1179 1574.4,1179.2 1575.4,1179.3 1576.4,1179.5 1577.4,1179.6 1578.4,1179.8 1579.4,1179.9 1580.4,1180.1 1581.4,1180.2 1582.4,1180.3 1583.4,1180.5 1584.4,1180.6 1585.4,1180.7 1586.4,1180.9 1587.4,1181 1588.4,1181.1 1589.4,1181.2 1590.4,1181.4 1591.4,1181.5 1592.4,1181.6 1593.4,1181.7 1594.4,1181.8 1595.4,1181.9 1596.4,1182 1597.4,1182.1 1598.4,1182.2 1599.4,1182.4 1600.4,1182.5 1601.4,1182.6 1602.4,1182.7 1603.4,1182.8 1604.4,1182.8 1605.4,1182.9 1606.4,1183 1607.4,1183.1 1608.4,1183.2 1609.4,1183.3 1610.4,1183.4 1611.4,1183.5 1612.4,1183.6 1613.4,1183.7 1614.4,1183.7 1615.4,1183.8 1616.4,1183.9 1617.4,1184 1618.4,1184.1 1619.4,1184.1 1620.4,1184.2 1621.4,1184.3 1622.4,1184.4 1623.4,1184.4 1624.4,1184.5 1625.4,1184.6 1626.4,1184.7 1627.4,1184.7 1628.4,1184.8 1629.4,1184.9 1630.4,1184.9 1631.4,1185"/>
<polyline stroke="#00ff00" points="1374.1,1184.9 1375.1,1184.8 1376.1,1184.6 1377.1,1184.4 1378.1,1184.2 1379.1,1184.1 1380.1,1183.9 1381.1,1183.7 1382.1,1183.5 1383.1,1183.3 1384.1,1183 1385.1,1182.8 1386.1,1182.6 1387.1,1182.4 1388.1,1182.1 1389.1,1181.8 1390.1,1181.6 1391.1,1181.3 1392.1,1181 1393.1,1180.7 1394.1,1180.4 1395.1,1180.1 1396.1,1179.7 1397.1,1179.4 1398.1,1179 1399.1,1178.6 1400.1,1178.3 1401.1,1177.8 1402.1,1177.4 1403.1,1177 1404.1,1176.5 1405.1,1176 1406.1,1175.5 1407.1,1174.9 1408.1,1174.4 1409.1,1173.8 1410.1,1173.2 1411.1,1172.5 1412.1,1171.8 1413.1,1171.1 1414.1,1170.4 1415.1,1169.6 1416.1,1168.7 1417.1,1167.9 1418.1,1166.9 1419.1,1165.9 1420.1,1164.9 1421.1,1163.8 1422.1,1162.7 1423.1,1161.4 1424.1,1160.1 1425.1,1158.7 1426.1,1157.3 1427.1,1155.7 1428.1,1154.1 1429.1,1152.3 1430.1,1150.4 1431.1,1148.4 1432.1,1146.3 1433.1,1144 1434.1,1141.5 1435.1,1138.9 1436.1,1136.1 1437.1,1133.1 1438.1,1129.8 1439.1,1126.3 1440.1,1122.6 1441.1,1118.6 1442.1,1114.2 1443.1,1109.6 1444.1,1104.5 1445.1,1099.1 1446.1,1093.3 1447.1,1087.1 1448.1,1080.4 1449.1,1073.3 1450.1,1065.7 1451.1,1057.6 1452.1,1049 1453.1,1039.9 1454.1,1030.5 1454.6,1025.6 1455.1,1020.7 1455.6,1015.7 1456.1,1010.6 1456.6,1005.6 1457.1,1000.5 1457.6,995.4 1458.1,990.4 1458.6,985.4 1459.1,980.5 1459.6,975.8 1460.1,971.2 1460.6,966.8 1461.1,962.7 1461.6,958.8 1462.1,955.1 1462.6,951.9 1463.1,949 1463.6,946.4 1464.1,944.3 1464.6,942.7 1465.1,941.5 1465.6,940.7 1466.1,940.5 1466.6,940.7 1467.1,941.5 1467.6,942.7 1468.1,944.3 1468.6,946.4 1469.1,949 1469.6,951.9 1470.1,955.1 1470.6,958.8 1471.1,962.7 1471.6,966.8 1472.1,971.2 1472.6,975.8 1473.1,980.5 1473.6,985.4 1474.1,990.4 1474.6,995.4 1475.1,1000.5 1475.6,1005.6 1476.1,1010.6 1476.6,1015.7 1477.1,1020.7 1477.6,1025.6 1478.1,1030.5 1478.6,1035.2 1479.6,1044.5 1480.6,1053.3 1481.6,1061.7 1482.6,1069.5 1483.6,1076.9 1484.6,1083.8 1485.6,1090.3 1486.6,1096.3 1487.6,1101.9 1488.6,1107.1 1489.6,1111.9 1490.6,1116.4 1491.6,1120.6 1492.6,1124.5 1493.6,1128.1 1494.6,1131.5 1495.6,1134.6 1496.6,1137.5 1497.6,1140.2 1498.6,1142.8 1499.6,1145.1 1500.6,1147.4 1501.6,1149.4 1502.6,1151.4 1503.6,1153.2 1504.6,1154.9 1505.6,1156.5 1506.6,1158 1507.6,1159.4 1508.6,1160.8 1509.6,1162.1 1510.6,1163.2 1511.6,1164.4 1512.6,1165.4 1513.6,1166.4 1514.6,1167.4 1515.6,1168.3 1516.6,1169.2 1517.6,1170 1518.6,1170.7 1519.6,1171.5 1520.6,1172.2 1521.6,1172.8 1522.6,1173.5 1523.6,1174.1 1524.6,1174.7 1525.6,1175.2 1526.6,1175.7 1527.6,1176.2 1528.6,1176.7 1529.6,1177.2 1530.6,1177.6 1531.6,1178 1532.6,1178.5 1533.6,1178.8 1534.6,1179.2 1535.6,1179.6 1536.6,1179.9 1537.6,1180.2 1538.6,1180.6 1539.6,1180.9 1540.6,1181.2 1541.6,1181.4 1542.6,1181.7 1543.6,1182 1544.6,1182.2 1545.6,1182.5 1546.6,1182.7 1547.6,1182.9 1548.6,1183.2 1549.6,1183.4 1550.6,1183.6 1551.6,1183.8 1552.6,1184 1553.6,1184.2 1554.6,1184.3 1555.6,1184.5 1556.6,1184.7 1557.6,1184.8 1558.6,1185"/>
<polyline stroke="#ff0000" points="947.3,1185.3 968.2,1184.2 989.1,1182.9 1010,1181.1 1030.9,1178.8 1051.8,1175.6 1072.7,1171.1 1093.6,1164.3 1114.5,1153.6 1135.4,1135 1156.3,1099.5 1177.2,1025.7 1198.1,890.1 1219,842.5 1239.9,974.6 1260.8,1066.1 1281.7,1105 1302.6,1117.1 1323.5,1110.9 1344.4,1080.7 1365.3,992.8 1386.2,703.7 1407.1,166.4 1428,688.8 1448.9,892.7 1469.8,861 1490.7,1061.4 1511.6,1127.2 1532.5,1151.6 1553.4,1163.8 1574.3,1171 1595.2,1175.6 1616.1,1178.8 1637,1181.1 1657.9,1182.9 1678.8,1184.3"/>
</g>
<g class="ax" shape-rendering="crispEdges">
<rect x="261" y="52" width="1784" height="1"/>
<rect x="258" y="52" width="5" height="1157"/>
<rect x="2042" y="52" width="6" height="1157"/>
<rect x="238" y="1184" width="1810" height="5"/>
<rect x="238" y="50" width="23" height="6"/>
<rect x="2022" y="50" width="24" height="6"/>
<rect x="248" y="239" width="13" height="6"/>
<rect x="2033" y="239" width="13" height="6"/>
<rect x="238" y="428" width="23" height="5"/>
<rect x="2022" y="428" width="24" height="5"/>
<rect x="248" y="617" width="13" height="6"/>
<rect x="2033" y="617" width="13" height="6"/>
<rect x="238" y="806" width="23" height="5"/>
<rect x="2022" y="806" width="24" height="5"/>
<rect x="248" y="995" width="13" height="6"/>
<rect x="2033" y="995" width="13" height="6"/>
<rect x="481" y="1187" width="5" height="12"/>
<rect x="704" y="1187" width="5" height="22"/>
<rect x="927" y="1187" width="5" height="12"/>
<rect x="1150" y="1187" width="6" height="22"/>
<rect x="1373" y="1187" width="5" height="12"/>
<rect x="1596" y="1187" width="6" height="22"/>
<rect x="1819" y="1187" width="5" height="12"/>
</g>
<g class="labels" filter="url(#bin)">
<text transform="translate(0 71) scale(1 1.045)"><tspan class="t" x="99.12" y="0">3</tspan><tspan class="t" x="126.1" y="0">x</tspan><tspan class="t" x="151.5" y="0">1</tspan><tspan class="t" x="177.32" y="0">0</tspan><tspan class="ts" x="204.29" y="-19.33">4</tspan></text>
<text transform="translate(0 448.8) scale(1 1.045)"><tspan class="t" x="99.12" y="0">2</tspan><tspan class="t" x="126.1" y="0">x</tspan><tspan class="t" x="151.5" y="0">1</tspan><tspan class="t" x="177.32" y="0">0</tspan><tspan class="ts" x="204.29" y="-19.04">4</tspan></text>
<text transform="translate(0 826.7) scale(1 1.045)"><tspan class="t" x="100.6" y="0">1</tspan><tspan class="t" x="126.1" y="0">x</tspan><tspan class="t" x="151.5" y="0">1</tspan><tspan class="t" x="177.32" y="0">0</tspan><tspan class="ts" x="204.29" y="-18.76">4</tspan></text>
<text transform="translate(0 1202.2) scale(1 1.045)"><tspan class="t" x="195.25" y="0">0</tspan></text>
<text transform="translate(0 1263.3) scale(1 1.045)"><tspan class="t" x="219.54" y="0">400</tspan></text>
<text transform="translate(0 1263.3) scale(1 1.045)"><tspan class="t" x="665.66" y="0">500</tspan></text>
<text transform="translate(0 1263.3) scale(1 1.045)"><tspan class="t" x="1111.79" y="0">600</tspan></text>
<text transform="translate(0 1263.3) scale(1 1.045)"><tspan class="t" x="1557.91" y="0">700</tspan></text>
<text transform="translate(0 1263.3) scale(1 1.045)"><tspan class="t" x="2004.04" y="0">800</tspan></text>
<text transform="translate(0 1353) scale(1 1.028)"><tspan class="tt ls" x="958.2" y="0">Raman shift, cm</tspan><tspan class="ts" x="1308.4" y="-16.93">−</tspan><tspan class="ts" x="1327.15" y="-19.65">1</tspan></text>
<text transform="translate(64 836.4) rotate(-90) scale(1 1.028)"><tspan class="tt" x="0" y="0">Raman Intensity, ab.un.</tspan></text>
<text transform="translate(0 136.9) scale(1 1.03)"><tspan class="p" x="1314.3" y="0">E</tspan><tspan class="ps" x="1352.05" y="15.53">2</tspan><tspan class="p" x="1376.7" y="0">(high)</tspan></text>
<text transform="translate(0 753.8) scale(1 1.03)"><tspan class="p" x="1117" y="0">A</tspan><tspan class="ps" x="1156.9" y="15.63">1</tspan><tspan class="p" x="1179.6" y="0">(TO</tspan><tspan class="p" x="1285.3" y="0">)</tspan></text>
<text transform="translate(0 776.9) scale(1 1.03)"><tspan class="p" x="1491.2" y="0">E</tspan><tspan class="ps" x="1529.9" y="16.41">1</tspan><tspan class="p" x="1553.8" y="0">(TO</tspan><tspan class="p" x="1658" y="0">)</tspan></text>
</g>
<g class="mask" fill="#fff">
<rect x="154.19" y="66.41" width="9.5" height="5.59"/>
<rect x="167.98" y="66.41" width="9.12" height="5.59"/>
<rect x="154.19" y="444.21" width="9.5" height="5.59"/>
<rect x="167.98" y="444.21" width="9.12" height="5.59"/>
<rect x="103.29" y="822.11" width="9.5" height="5.59"/>
<rect x="117.08" y="822.11" width="9.12" height="5.59"/>
<rect x="154.19" y="822.11" width="9.5" height="5.59"/>
<rect x="167.98" y="822.11" width="9.12" height="5.59"/>
<rect x="1328.74" y="1329.39" width="6.96" height="4.41"/>
<rect x="1338.7" y="1329.39" width="6.69" height="4.41"/>
<rect x="1159.06" y="765.91" width="8.27" height="4.99"/>
<rect x="1171" y="765.91" width="7.95" height="4.99"/>
<rect x="1532.06" y="789.81" width="8.27" height="4.99"/>
<rect x="1544" y="789.81" width="7.95" height="4.99"/>
</g>
</svg>
</body>
</html>
